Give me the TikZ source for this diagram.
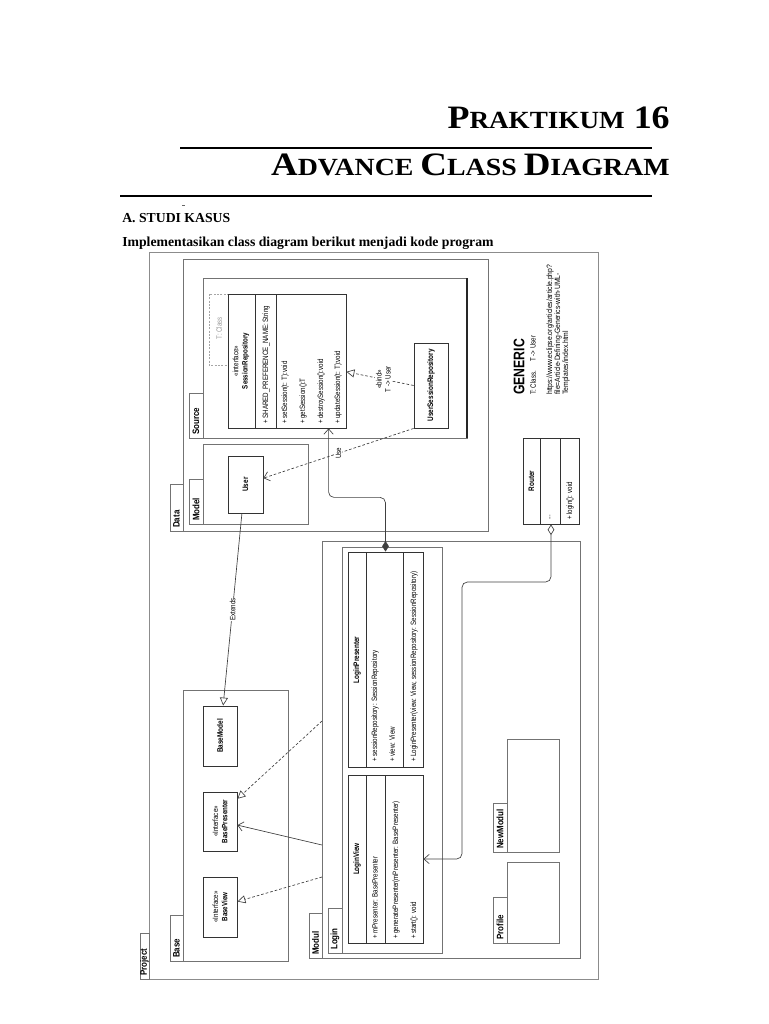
\documentclass[tikz,border=0pt]{standalone}
\usepackage{fontspec}
\setmainfont{Liberation Serif}
\setsansfont{Liberation Sans}
\usetikzlibrary{arrows.meta,fit,calc}
\begin{document}
\begin{tikzpicture}[x=0.75pt,y=-0.75pt,
 pkg/.style={draw=black!55, line width=0.5pt},
 cls/.style={draw=black!80, line width=0.6pt, fill=white, inner sep=0pt},
 tpl/.style={draw=black!35, dashed, dash pattern=on 1.5pt off 1pt, line width=0.4pt},
 tab/.style={rotate=90, anchor=west, inner sep=0pt, xscale=0.85, font=\sffamily\bfseries\fontsize{7}{8}\selectfont},
 rt/.style={rotate=90, inner sep=0pt, xscale=0.8, font=\sffamily\fontsize{5.8}{6.8}\selectfont},
 rtb/.style={rotate=90, inner sep=0pt, xscale=0.8, font=\sffamily\bfseries\fontsize{6}{7}\selectfont},
 conn/.style={draw=black!75, line width=0.5pt},
 dep/.style={conn, dash pattern=on 2pt off 1.5pt},
 otri/.style={-{Triangle[open, length=6pt, width=6pt]}},
 vee/.style={-{Straight Barb[length=4pt, width=7pt]}},
 lbl/.style={rt, fill=white, inner sep=0.6pt}
]
\useasboundingbox (0,0) rectangle (768,1024);

% ---------- page header ----------
\newcommand{\bigc}[1]{{\fontsize{24.5}{26}\selectfont #1}}
\newcommand{\smlc}[1]{{\fontsize{18.5}{20}\selectfont #1}}
\node[anchor=base east, inner sep=0, font=\bfseries, xscale=1.1] (t1) at (670,128)
  {\bigc{P}\smlc{RAKTIKUM}\bigc{\ 16}};
\draw[line width=1.2pt] (180,148) -- (652,148);
\node[anchor=base east, inner sep=0, font=\bfseries, xscale=1.13] (t2) at (670,175)
  {\bigc{A}\smlc{DVANCE }\bigc{C}\smlc{LASS }\bigc{D}\smlc{IAGRAM}};
\draw[line width=1.2pt] (120,196) -- (652,196);
\draw[line width=0.4pt, black!60] (182,205) -- (185,205);
\node[anchor=base west, inner sep=0, font=\bfseries\fontsize{10.3}{12}\selectfont] (h1) at (122,222) {A. STUDI KASUS};
\node[anchor=base west, inner sep=0, font=\bfseries\fontsize{10.3}{12}\selectfont] (h2) at (122,246) {Implementasikan class diagram berikut menjadi kode program};

% ---------- packages ----------
\draw[pkg, draw=black!45] (149,252) rectangle (598,979);
\draw[pkg] (140,933) rectangle (149,979);
\node[tab] (pProject) at (144.5,976) {Project};

\draw[pkg] (183,259) rectangle (488,531);
\draw[pkg] (170,484) rectangle (183,531);
\node[tab] (pData) at (176.5,528) {Data};

\draw[pkg] (203,278) rectangle (467,438);
\draw[line width=1pt, black!85] (467,278) -- (467,438);
\draw[pkg] (189,393) rectangle (203,438);
\node[tab] (pSource) at (196,435) {Source};

\draw[pkg] (203,444) rectangle (308,524);
\draw[pkg] (189,479) rectangle (203,524);
\node[tab] (pModel) at (196,521) {Model};

\draw[pkg] (183,690) rectangle (288,961);
\draw[pkg] (170,915) rectangle (183,961);
\node[tab] (pBase) at (176.5,958) {Base};

\draw[pkg] (322,541) rectangle (580,958);
\draw[pkg] (309,913) rectangle (322,958);
\node[tab] (pModul) at (315.5,955) {Modul};

\draw[pkg] (342,547) rectangle (442,953);
\draw[pkg] (328,908) rectangle (342,953);
\node[tab] (pLogin) at (335,950) {Login};

\draw[pkg] (507,739) rectangle (559,852);
\draw[pkg] (493,803) rectangle (507,852);
\node[tab] (pNew) at (500,849) {NewModul};

\draw[pkg] (507,862) rectangle (559,943);
\draw[pkg] (493,897) rectangle (507,943);
\node[tab] (pProfile) at (500,940) {Profile};

% ---------- classes ----------
% template parameter box
\draw[tpl] (229,294) -- (209,294) -- (209,365) -- (229,365);
\node[rt, text=black!40] (tparam) at (219,328) {T: Class};

% SessionRepository
\node[cls, fit={(228,294) (346,428)}] (sr) {};
\draw[black!80, line width=0.5pt] (255,294) -- (255,428) (276,294) -- (276,428);
\node[rt, align=center] (srname) at (241,361) {<<interface>>\\\textbf{SessionRepository}};
\node[rt, anchor=west] (sra) at (266,424) {+ SHARED\_PREFERENCE\_NAME: String};
\node[rt, anchor=west] (sro1) at (285,424) {+ setSession(t: T):void};
\node[rt, anchor=west] (sro2) at (303,424) {+ getSession():T};
\node[rt, anchor=west] (sro3) at (321,424) {+ destroySession():void};
\node[rt, anchor=west] (sro4) at (338,424) {+ updateSession(t: T):void};

% UserSessionRepository
\node[cls, fit={(414,343) (448,428)}] (usr) {};
\node[rtb] (usrname) at (431,385.5) {UserSessionRepository};

% User
\node[cls, fit={(228,456) (263,513)}] (user) {};
\node[rtb] (username) at (245.5,484.5) {User};

% Router
\node[cls, fit={(523,438) (579,524)}] (router) {};
\draw[black!80, line width=0.5pt] (540,438) -- (540,524) (560,438) -- (560,524);
\node[rtb] (routername) at (531.5,481) {Router};
\node[rt, anchor=west] (routera) at (550,520) {...};
\node[rt, anchor=west] (routero) at (570,520) {+ login(): void};

% GENERIC note
\node[rotate=90, anchor=west, inner sep=0, xscale=0.8, font=\sffamily\bfseries\fontsize{11.5}{12}\selectfont] (gen) at (519,395) {GENERIC};
\node[rt, anchor=west] (g1) at (533,395) {T: Class.};
\node[rt, anchor=west] (g2) at (533,362) {T -> User};
\node[rt, anchor=west, xscale=1.1] (g3) at (550,395) {https://www.eclipse.org/articles/article.php?};
\node[rt, anchor=west, xscale=1.1] (g4) at (558,395) {file=Article-Defining-Generics-with-UML-};
\node[rt, anchor=west, xscale=1.1] (g5) at (566,395) {Templates/index.html};

% Base classes
\node[cls, fit={(203,706) (237,766)}] (bm) {};
\node[rtb] (bmname) at (220,736) {BaseModel};
\node[cls, fit={(203,792) (237,851)}] (bp) {};
\node[rt, align=center] (bpname) at (220,821.5) {«Interface»\\\textbf{BasePresenter}};
\node[cls, fit={(203,877) (237,937)}] (bv) {};
\node[rt, align=center] (bvname) at (220,907) {«Interface»\\\textbf{BaseView}};

% LoginPresenter
\node[cls, fit={(348,552) (423,767)}] (lp) {};
\draw[black!80, line width=0.5pt] (366,552) -- (366,767) (403,552) -- (403,767);
\node[rtb] (lpname) at (357,660) {LoginPresenter};
\node[rt, anchor=west] (lpa1) at (375,762) {+ sessionRepository: SessionRepository};
\node[rt, anchor=west] (lpa2) at (392,762) {+ view: View};
\node[rt, anchor=west] (lpo1) at (414,762) {+ LoginPresenter(view: View, sessionRepository: SessionRepository)};

% LoginView
\node[cls, fit={(348,775) (423,943)}] (lv) {};
\draw[black!80, line width=0.5pt] (366,775) -- (366,943) (385,775) -- (385,943);
\node[rtb] (lvname) at (357,859) {LoginView};
\node[rt, anchor=west] (lva1) at (375,939) {+ mPresenter: BasePresenter};
\node[rt, anchor=west] (lvo1) at (396,939) {+ generatePresenter(mPresenter: BasePresenter)};
\node[rt, anchor=west] (lvo2) at (414,939) {+ start(): void};

% ---------- connectors ----------
% bind
\draw[dep, otri] (usr.west) -- ($(sr.north east)!0.58!(sr.south east)$)
  node[lbl, pos=0.45, align=center] (bindlbl) {«bind»\\T -> User};
% use
\draw[dep, vee] (usr.south west) -- ($(user.north east)!0.39!(user.south east)$)
  node[lbl, pos=0.5] (uselbl) {Use};
% extends
\draw[conn, otri] ($(user.south west)!0.4!(user.south east)$) -- ($(bm.north west)!0.59!(bm.north east)$)
  node[lbl, pos=0.5] (extlbl) {Extends};
% composition SessionRepository - LoginPresenter
\draw[conn, rounded corners=4pt, {Straight Barb[length=4pt, width=7pt]}-{Diamond[length=8pt, width=5pt]}]
  ($(sr.south west)!0.85!(sr.south east)$) -- ++(0,69) -| (lp.north);
% aggregation Router - LoginView
\coordinate (rbend) at (462,582);
\draw[conn, rounded corners=4pt, {Straight Barb[length=4pt, width=7pt]}-{Diamond[open, length=8pt, width=5pt]}]
  (lv.east) -| (rbend) -| (router.south);
% from Modul towards Base
\coordinate (m1) at (322,721);
\coordinate (m2) at (322,845);
\coordinate (m3) at (322,877);
\draw[dep, otri] (m1) -- ($(bp.north east)!0.12!(bp.south east)$);
\draw[conn, vee] (m2) -- ($(bp.north east)!0.56!(bp.south east)$);
\draw[dep, otri] (m3) -- ($(bv.north east)!0.41!(bv.south east)$);
\end{tikzpicture}
\end{document}
